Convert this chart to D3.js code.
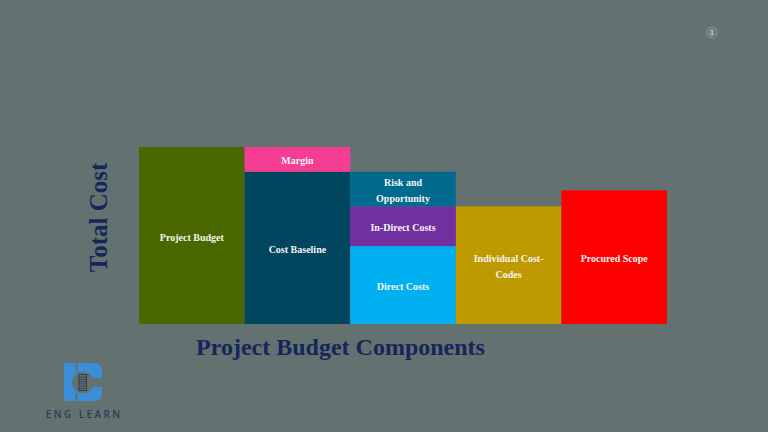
<!DOCTYPE html>
<html>
<head>
<meta charset="utf-8">
<script src="https://cdn.jsdelivr.net/npm/d3@7"></script>
<style>
  html, body { margin: 0; padding: 0; background: #637170; }
  svg { display: block; }
</style>
</head>
<body>
<div id="chart"></div>
<script>
// Chart data: five columns, stacked from the bottom in up to three layers
const categories = ['Project Budget', 'Cost Baseline', 'Cost Breakdown', 'Individual Cost-Codes', 'Procured Scope'];

const layer1Values = [100, 86, 44, 66.5, 75.5];
const layer2Values = [0, 14, 22.5, 0, 0];
const layer3Values = [0, 0, 19.5, 0, 0];

const layer1Labels = ['Project Budget', 'Cost Baseline', 'Direct Costs', 'Individual Cost-\nCodes', 'Procured Scope'];
const layer2Labels = ['', 'Margin', 'In-Direct Costs', '', ''];
const layer3Labels = ['', '', 'Risk and\nOpportunity', '', ''];

const layer1Colors = ['#4a6800', '#00465f', '#00b0f0', '#bf9900', '#ff0000'];
const layer2Colors = ['none', '#f53d94', '#7030a0', 'none', 'none'];
const layer3Colors = ['none', 'none', '#006b8f', 'none', 'none'];

const yMax = 100;

const width = 768;
const height = 432;
const bg = '#637170';

const svg = d3.select('#chart')
  .append('svg')
  .attr('width', width)
  .attr('height', height);

svg.append('rect')
  .attr('width', width)
  .attr('height', height)
  .attr('fill', bg);

// scales
const x = d3.scaleBand()
  .domain(categories)
  .range([139, 667])
  .padding(0);

const y = d3.scaleLinear()
  .domain([0, yMax])
  .range([324, 147]);

// build stacked table from the layer arrays
const table = categories.map((c, i) => ({
  category: c,
  l1: layer1Values[i],
  l2: layer2Values[i],
  l3: layer3Values[i]
}));
const series = d3.stack().keys(['l1', 'l2', 'l3'])(table);

const labelSets = { l1: layer1Labels, l2: layer2Labels, l3: layer3Labels };
const colorSets = { l1: layer1Colors, l2: layer2Colors, l3: layer3Colors };

const segments = [];
series.forEach(s => {
  s.forEach((d, i) => {
    if (d[1] - d[0] <= 0) return;
    segments.push({
      category: d.data.category,
      y0: d[0],
      y1: d[1],
      label: labelSets[s.key][i],
      color: colorSets[s.key][i]
    });
  });
});

const bars = svg.append('g');

bars.selectAll('rect')
  .data(segments)
  .join('rect')
  .attr('x', d => x(d.category))
  .attr('y', d => y(d.y1))
  .attr('width', x.bandwidth())
  .attr('height', d => y(d.y0) - y(d.y1))
  .attr('fill', d => d.color);

// labels inside each block
const lineGap = 16;
const labels = bars.selectAll('text')
  .data(segments.filter(d => d.label))
  .join('text')
  .attr('text-anchor', 'middle')
  .attr('font-family', '"Liberation Serif", "Times New Roman", serif')
  .attr('font-weight', 'bold')
  .attr('font-size', 10)
  .attr('fill', '#f4f4f4');

labels.each(function (d) {
  const lines = d.label.split('\n');
  const cx = x(d.category) + x.bandwidth() / 2;
  const cy = (y(d.y0) + y(d.y1)) / 2 + 1.5;
  const top = cy - (lines.length - 1) * lineGap / 2;
  d3.select(this).selectAll('tspan')
    .data(lines)
    .join('tspan')
    .attr('x', cx)
    .attr('y', (l, j) => top + j * lineGap)
    .attr('dy', '0.35em')
    .text(l => l);
});

// axis titles
const titleColor = '#15265a';

svg.append('text')
  .attr('transform', 'translate(106.5,217.5) rotate(-90)')
  .attr('text-anchor', 'middle')
  .attr('font-family', '"Liberation Serif", "Times New Roman", serif')
  .attr('font-weight', 'bold')
  .attr('font-size', 25)
  .attr('fill', titleColor)
  .text('Total Cost');

svg.append('text')
  .attr('x', 340.5)
  .attr('y', 355)
  .attr('text-anchor', 'middle')
  .attr('font-family', '"Liberation Serif", "Times New Roman", serif')
  .attr('font-weight', 'bold')
  .attr('font-size', 24)
  .attr('fill', titleColor)
  .text('Project Budget Components');

// slide number badge
svg.append('circle')
  .attr('cx', 712)
  .attr('cy', 32.5)
  .attr('r', 6.5)
  .attr('fill', '#76807f');
svg.append('text')
  .attr('x', 712)
  .attr('y', 35)
  .attr('text-anchor', 'middle')
  .attr('font-family', 'DejaVu Sans, sans-serif')
  .attr('font-size', 7)
  .attr('fill', '#e8e8e8')
  .text('1');

// logo
const logo = svg.append('g');
const blue = '#3a8fd8';
const ink = '#2d3e55';
logo.append('path')
  .attr('d', 'M64,363 H94 Q102,363 102,371 V393 Q102,401 94,401 H64 Z')
  .attr('fill', blue);
// cut-outs in the mark
logo.append('circle')
  .attr('cx', 83)
  .attr('cy', 382.5)
  .attr('r', 11)
  .attr('fill', bg);
logo.append('rect').attr('x', 75.5).attr('y', 362).attr('width', 2).attr('height', 10).attr('fill', bg);
logo.append('rect').attr('x', 75.5).attr('y', 393).attr('width', 2).attr('height', 9).attr('fill', bg);
logo.append('rect').attr('x', 90).attr('y', 378).attr('width', 13).attr('height', 9).attr('fill', bg);
logo.append('path')
  .attr('d', 'M64,363 Q64,363 64,363')
  .attr('fill', 'none');
logo.append('rect')
  .attr('x', 79)
  .attr('y', 374.5)
  .attr('width', 7.5)
  .attr('height', 16)
  .attr('fill', 'none')
  .attr('stroke', ink)
  .attr('stroke-width', 1);
d3.range(6).forEach(i => {
  logo.append('line')
    .attr('x1', 79).attr('x2', 86.5)
    .attr('y1', 377 + i * 2.3).attr('y2', 377 + i * 2.3)
    .attr('stroke', ink)
    .attr('stroke-width', 0.8);
});
logo.append('text')
  .attr('x', 84.2)
  .attr('y', 417.5)
  .attr('text-anchor', 'middle')
  .attr('font-family', '"Open Sans", "DejaVu Sans", sans-serif')
  .attr('font-weight', 600)
  .attr('font-size', 10)
  .attr('letter-spacing', 2.4)
  .attr('fill', ink)
  .text('ENG LEARN');
</script>
</body>
</html>
